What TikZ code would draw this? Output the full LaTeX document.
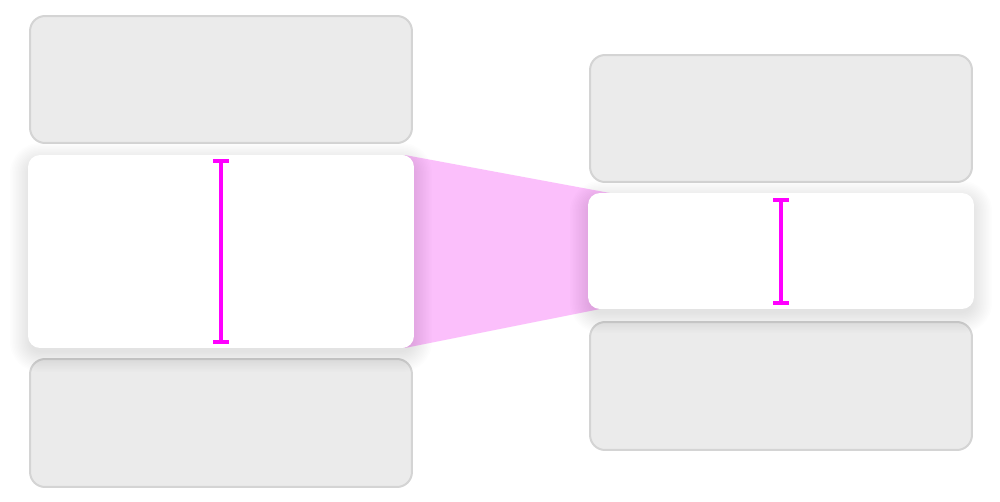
\documentclass[tikz,border=0pt]{standalone}
\usetikzlibrary{arrows.meta}
\definecolor{boxgray}{HTML}{EBEBEB}
\definecolor{boxline}{HTML}{D4D4D4}
\definecolor{funnelpink}{HTML}{FBBFFB}
\definecolor{beamcol}{HTML}{FF00FF}
\begin{document}
\begin{tikzpicture}[x=0.02cm,y=-0.02cm,
  graybox/.style={draw=boxline, fill=boxgray, line width=0.04cm, rounded corners=0.3cm,
    minimum width=7.64cm, minimum height=2.54cm, inner sep=0pt, outer sep=0pt},
  whitebox/.style={fill=white, rounded corners=0.24cm, minimum width=7.72cm,
    inner sep=0pt, outer sep=0pt},
  beam/.style={draw=beamcol, line width=0.075cm},
  beamcap/.style={draw=beamcol, line width=0.07cm}]
\useasboundingbox (0,0) rectangle (1000,501);
\fill[white] (0,0) rectangle (1000,501);

% gray boxes
\node[graybox] (ltop) at (221,79.5) {};
\node[graybox, minimum height=2.56cm] (lbot) at (221,423) {};
\node[graybox] (rtop) at (781,118.5) {};
\node[graybox, minimum height=2.56cm] (rbot) at (781,386) {};

% white boxes (positions only, drawn later)
\path node[whitebox, fill=none, minimum height=3.86cm] (lw) at (221,251.5) {}
      node[whitebox, fill=none, minimum height=2.32cm] (rw) at (781,251) {};

% funnel
\fill[funnelpink] ([xshift=-0.18cm]lw.north east) -- ([xshift=0.44cm]rw.north west)
  -- ([xshift=0.24cm]rw.south west) -- ([xshift=-0.18cm]lw.south east) -- cycle;

% soft shadows
\foreach \n in {lw,rw}{
  \foreach \i in {1,...,14}{
    \pgfmathsetmacro\e{\i*0.03-0.06}
    \pgfmathsetmacro\r{0.24+max(\e,0)}
    \fill[black, opacity=0.0085, rounded corners=\r cm]
      ([xshift=-\e cm, yshift=\e cm-0.12cm]\n.north west) rectangle
      ([xshift=\e cm, yshift=-\e cm-0.12cm]\n.south east);
  }
}

% white boxes
\node[whitebox, minimum height=3.86cm] at (lw) {};
\node[whitebox, minimum height=2.32cm] at (rw) {};

% I-beams
\coordinate (lt) at (221,161);
\coordinate (lb) at (221,342);
\coordinate (rt) at (781,200);
\coordinate (rb) at (781,303);
\draw[beam] (lt) -- (lb);
\draw[beam] (rt) -- (rb);
\foreach \c in {lt,lb,rt,rb}{
  \draw[beamcap] ([xshift=-0.16cm]\c) -- ([xshift=0.16cm]\c);
}
\end{tikzpicture}
\end{document}
